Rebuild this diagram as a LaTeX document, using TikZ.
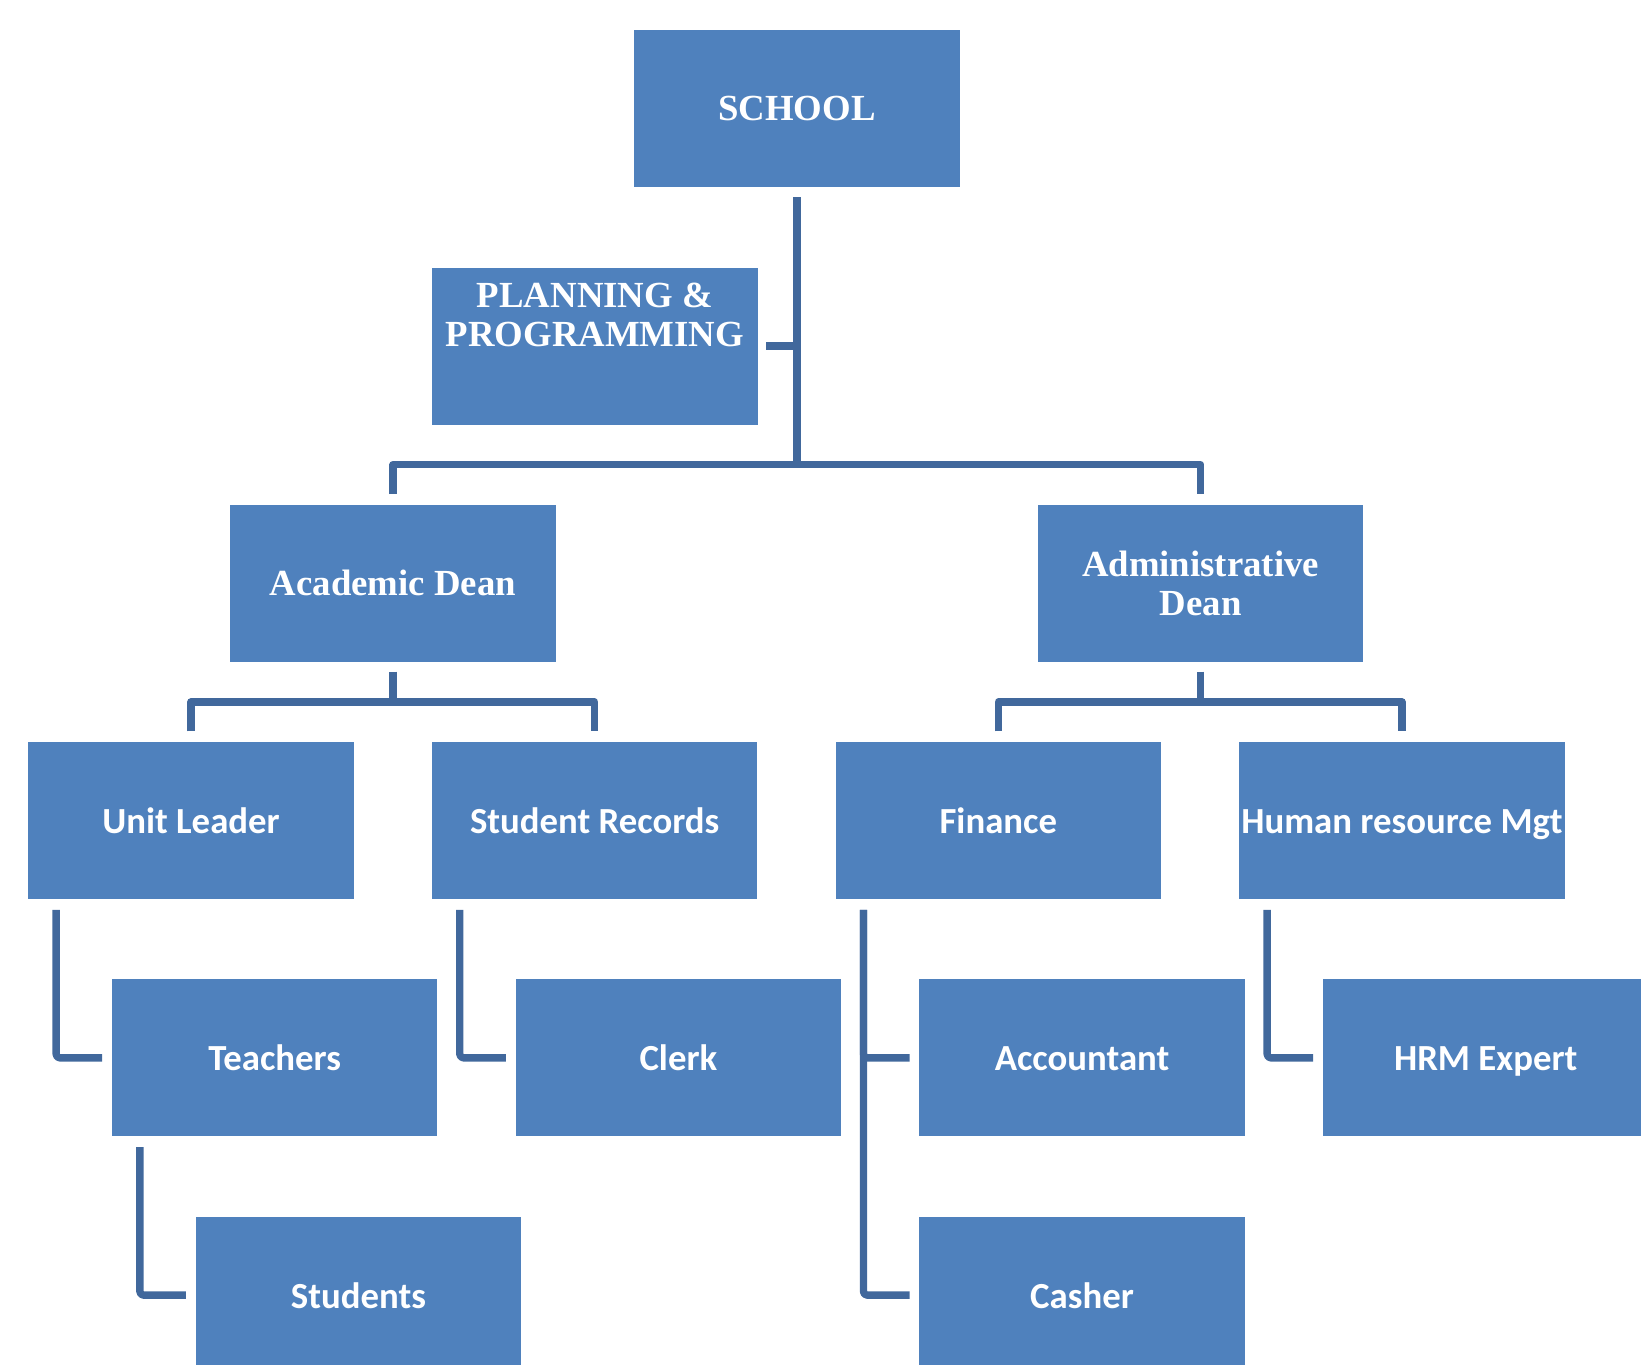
\documentclass[tikz,border=0pt]{standalone}
\usepackage{fontspec}
\setmainfont{Liberation Serif}
\newfontfamily\boxfont{Carlito}
\usetikzlibrary{positioning,calc}
\definecolor{boxblue}{RGB}{79,129,189}
\definecolor{linkblue}{RGB}{65,104,156}

\begin{document}
\begin{tikzpicture}[
  node distance=1.52cm and 1.48cm,
  box/.style={fill=boxblue, minimum width=6.22cm, minimum height=3cm, inner sep=0pt, align=center, text=white},
  headbox/.style={box, font=\fontsize{20}{21}\selectfont\bfseries},
  unitbox/.style={box, text height=14pt, text depth=0pt, font=\boxfont\fontsize{20}{24}\selectfont\bfseries},
  link/.style={draw=linkblue, line width=4pt, line join=round}
]
  \useasboundingbox (0,0) rectangle (31.36,-26.08);

  \node[headbox] (school) at (15.23,-2.08) {SCHOOL};
  \node[headbox, below=of school, xshift=-3.86cm, text depth=1.2cm] (plan) {PLANNING \&\\PROGRAMMING};
  \node[headbox, below=of plan, xshift=-3.86cm] (acad) {Academic Dean};
  \node[headbox, right=9.2cm of acad] (admin) {Administrative\\Dean};

  \node[unitbox, below=of acad, xshift=-3.86cm] (unit) {Unit Leader};
  \node[unitbox, right=of unit] (recs) {Student Records};
  \node[unitbox, right=of recs] (fin) {Finance};
  \node[unitbox, right=of fin] (hrm) {Human resource Mgt};

  \node[unitbox, below=of unit, xshift=1.6cm] (teach) {Teachers};
  \node[unitbox, below=of recs, xshift=1.6cm] (clerk) {Clerk};
  \node[unitbox, below=of fin, xshift=1.6cm] (acct) {Accountant};
  \node[unitbox, below=of hrm, xshift=1.6cm] (expert) {HRM Expert};
  \node[unitbox, below=of teach, xshift=1.6cm] (stud) {Students};
  \node[unitbox, below=of acct] (casher) {Casher};

  % bus heights
  \path (plan.south) -- (acad.north) coordinate[midway] (midA);
  \path (acad.south) -- (unit.north) coordinate[midway] (midB);

  \draw[link] ([yshift=-0.18cm]school.south) -- (school |- midA);
  \draw[link] ([xshift=0.16cm]plan.east) -- (school |- plan.east);
  \draw[link] ([yshift=0.2cm]acad.north) |- (school |- midA) -| ([yshift=0.2cm]admin.north);

  \draw[link] ([yshift=-0.18cm]acad.south) -- (acad |- midB);
  \draw[link] ([yshift=0.2cm]unit.north) |- (acad |- midB) -| ([yshift=0.2cm]recs.north);
  \draw[link] ([yshift=-0.18cm]admin.south) -- (admin |- midB);
  \draw[link] ([yshift=0.2cm]fin.north) |- (admin |- midB) -| ([yshift=0.2cm]hrm.north);

  % elbow links
  \foreach \a/\b in {unit/teach, recs/clerk, fin/acct, fin/casher, hrm/expert, teach/stud}
    \draw[link, rounded corners=2pt] ([xshift=0.54cm,yshift=-0.2cm]\a.south west) |- ([xshift=-0.18cm]\b.west);
\end{tikzpicture}
\end{document}
